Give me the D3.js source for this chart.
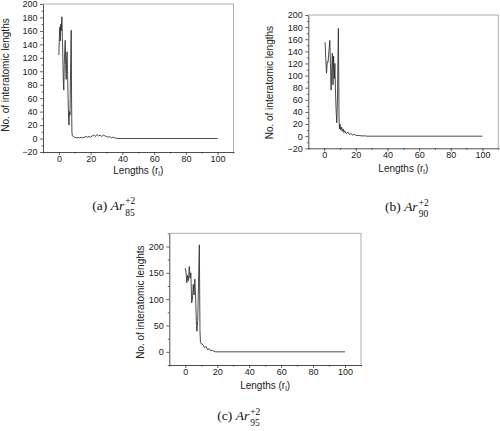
<!DOCTYPE html>
<html>
<head>
<meta charset="utf-8">
<script src="https://cdn.jsdelivr.net/npm/d3@7"></script>
<style>
  body { margin: 0; background: #fff; }
  svg { display: block; }
  .tick text { font-family: "Liberation Sans", Arial, sans-serif; font-size: 9px; fill: #222; }
  .axis-title { font-family: "Liberation Sans", Arial, sans-serif; font-size: 10px; fill: #222; }
  .caption { font-family: "Liberation Serif", "Times New Roman", serif; fill: #111; }
</style>
</head>
<body>
<svg id="chart" width="500" height="431"></svg>
<script>
// Panel (a): Ar85
const lengthsA = [0, 0.3, 0.6, 0.9, 1.2, 1.5, 1.9, 2.2, 2.5, 2.8, 3.1, 3.4, 3.7, 4.0, 4.3, 4.6, 4.9, 5.2, 5.5, 5.8, 6.1, 6.4, 6.7, 7.0, 7.3, 7.6, 7.8, 8.0, 8.2, 8.5, 9, 10, 11, 12, 13, 14, 15, 16, 17, 18, 19, 20, 21, 22, 23, 24, 25, 26, 27, 28, 29, 30, 31, 32, 33, 34, 35, 36, 37, 100];
const countsA  = [124, 150, 166, 145, 170, 160, 181, 150, 120, 85, 72, 110, 130, 146, 110, 88, 120, 129, 95, 60, 30, 20, 40, 35, 90, 140, 161, 60, 10, 4, 3, 2, 1, 1.5, 1, 2, 1, 2, 3, 2, 3, 2, 4, 5, 3, 6, 4, 5, 3, 5, 4, 3, 2, 3, 1, 2, 1, 0.5, 0, 0];

// Panel (b): Ar90
const lengthsB = [0.6, 1.0, 1.5, 2.0, 2.5, 3.0, 3.6, 4.0, 4.4, 4.8, 5.2, 5.6, 6.0, 6.4, 6.8, 7.2, 7.6, 8.0, 8.4, 9.0, 9.4, 9.7, 10, 10.5, 11, 11.5, 12, 12.5, 13, 14, 15, 16, 17, 18, 19, 20, 22, 24, 26, 27, 100];
const countsB  = [155, 130, 104, 123, 122, 140, 158, 120, 76, 110, 137, 85, 132, 95, 120, 70, 40, 22, 60, 178, 30, 12, 20, 10, 15, 8, 12, 6, 9, 4, 7, 3, 4, 2, 3, 1.5, 1, 0.5, 0.5, 0, 0];

// Panel (c): Ar95
const lengthsC = [0, 0.5, 1.0, 1.5, 2.0, 2.5, 3.0, 3.5, 4.0, 4.5, 5.0, 5.5, 6.0, 6.5, 7.0, 7.3, 7.8, 8.8, 9.2, 9.5, 10, 11, 12, 13, 14, 15, 16, 17, 18, 19, 100];
const countsC  = [159, 150, 131, 145, 135, 162, 140, 150, 93, 100, 128, 108, 138, 100, 50, 39, 60, 203, 40, 18, 15, 14, 8, 10, 4, 6, 2, 3, 1, 0, 0];

// Tick values
const xTicks = [0, 20, 40, 60, 80, 100];
const xMinor = [-10, 10, 30, 50, 70, 90, 110];
const yTicksAB = [-20, 0, 20, 40, 60, 80, 100, 120, 140, 160, 180, 200];
const yMinorAB = [-10, 10, 30, 50, 70, 90, 110, 130, 150, 170, 190];
const yTicksC = [0, 50, 100, 150, 200];
const yMinorC = [-25, 25, 75, 125, 175, 225];

const panels = [
  { xs: lengthsA, ys: countsA, left: 43, right: 233.5, top: 4, bottom: 152,
    yDomain: [-20, 200], yTicks: yTicksAB, yMinor: yMinorAB,
    yTitle: 'No. of interatomic lengths', yTitleX: 5.5, yTitleShift: -3, xTitleY: 173.5,
    caption: ['(a) ', '85'], capX: 92.3, capY: 209.5 },
  { xs: lengthsB, ys: countsB, left: 308.3, right: 498.3, top: 15, bottom: 148.3,
    yDomain: [-20, 200], yTicks: yTicksAB, yMinor: yMinorAB,
    yTitle: 'No. of interatomic lengths', yTitleX: 269.5, yTitleShift: 1, xTitleY: 172,
    caption: ['(b) ', '90'], capX: 385, capY: 211 },
  { xs: lengthsC, ys: countsC, left: 169.3, right: 361, top: 233.3, bottom: 365,
    yDomain: [-25, 225], yTicks: yTicksC, yMinor: yMinorC,
    yTitle: 'No. of interatomic lenghts', yTitleX: 140.5, yTitleShift: 3, xTitleY: 389,
    caption: ['(c) ', '95'], capX: 217.3, capY: 420 }
];

const svg = d3.select('#chart');

panels.forEach(p => {
  const x = d3.scaleLinear().domain([-10, 110]).range([p.left, p.right]);
  const y = d3.scaleLinear().domain(p.yDomain).range([p.bottom, p.top]);
  const g = svg.append('g');

  // top / right frame
  g.append('path')
    .attr('d', `M${p.left},${p.top}H${p.right}V${p.bottom}`)
    .attr('fill', 'none')
    .attr('stroke', '#9a9a9a')
    .attr('stroke-width', 0.8);

  // bottom axis
  const xAxis = g.append('g').attr('transform', `translate(0,${p.bottom})`);
  xAxis.call(d3.axisBottom(x).tickValues(xTicks).tickSize(3).tickPadding(0.5).tickSizeOuter(0));
  xAxis.append('g').call(d3.axisBottom(x).tickValues(xMinor).tickSize(1.5).tickFormat(''))
    .select('.domain').remove();

  // left axis
  const yAxis = g.append('g').attr('transform', `translate(${p.left},0)`);
  yAxis.call(d3.axisLeft(y).tickValues(p.yTicks).tickSize(3).tickPadding(2.5).tickSizeOuter(0));
  yAxis.append('g').call(d3.axisLeft(y).tickValues(p.yMinor).tickSize(1.5).tickFormat(''))
    .select('.domain').remove();

  g.selectAll('.domain').attr('stroke', '#222').attr('stroke-width', 0.8);
  g.selectAll('.tick line').attr('stroke', '#222').attr('stroke-width', 0.7);

  // data line
  const pts = p.xs.map((v, i) => [v, p.ys[i]]);
  g.append('path')
    .datum(pts)
    .attr('fill', 'none')
    .attr('stroke', '#2a2a2a')
    .attr('stroke-width', 0.85)
    .attr('d', d3.line().x(d => x(d[0])).y(d => y(d[1])));

  // axis titles
  const xt = g.append('text')
    .attr('class', 'axis-title')
    .attr('x', (p.left + p.right) / 2)
    .attr('y', p.xTitleY)
    .attr('text-anchor', 'middle')
    .text('Lengths (r');
  xt.append('tspan').attr('font-size', '7px').attr('dy', 2).text('l');
  xt.append('tspan').attr('dy', -2).text(')');

  g.append('text')
    .attr('class', 'axis-title')
    .attr('transform', `translate(${p.yTitleX},${(p.top + p.bottom) / 2 + p.yTitleShift}) rotate(-90)`)
    .attr('text-anchor', 'middle')
    .attr('dy', '0.35em')
    .text(p.yTitle);

  // caption like "(a) Ar^{+2}_{85}"
  const cap = g.append('text')
    .attr('class', 'caption')
    .attr('x', p.capX)
    .attr('y', p.capY)
    .attr('font-size', '13.5px');
  cap.append('tspan').text(p.caption[0]);
  cap.append('tspan').attr('font-style', 'italic').text('Ar');
  const capEnd = p.capX + cap.node().getComputedTextLength() + 1;
  g.append('text').attr('class', 'caption')
    .attr('x', capEnd).attr('y', p.capY - 5.5)
    .attr('font-size', '9.5px').text('+2');
  g.append('text').attr('class', 'caption')
    .attr('x', capEnd).attr('y', p.capY + 6)
    .attr('font-size', '9.5px').text(p.caption[1]);
});
</script>
</body>
</html>
